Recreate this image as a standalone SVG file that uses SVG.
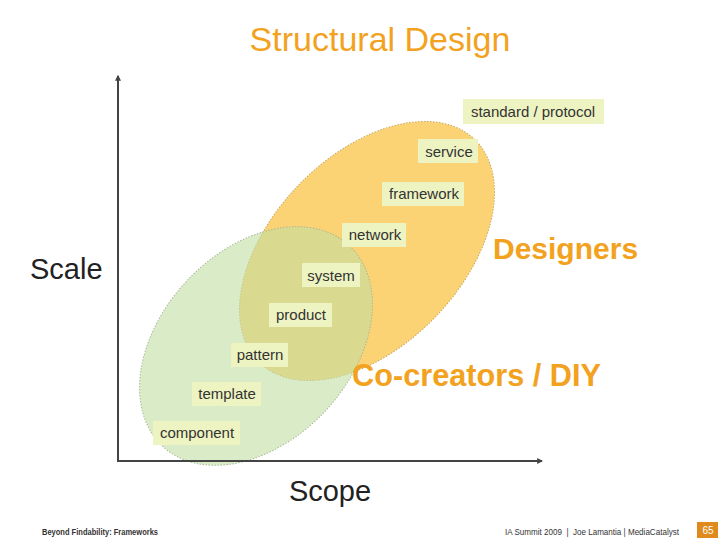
<svg xmlns="http://www.w3.org/2000/svg" width="728" height="546" viewBox="0 0 728 546">
<style>
.lbl{font-family:"Liberation Sans",Arial,sans-serif;font-size:15px;fill:#333;text-anchor:middle}
.box{fill:#eef3c2}
.big{font-family:"Liberation Sans",Arial,sans-serif;font-weight:bold;fill:#f2a21e}
.axis{stroke:#444;stroke-width:2;fill:none}
.foot{font-family:"Liberation Sans",Arial,sans-serif;font-size:9px;fill:#333}
</style>
<defs>
<marker id="arr" viewBox="0 0 10 10" refX="8" refY="5" markerWidth="6" markerHeight="6" orient="auto" markerUnits="userSpaceOnUse">
<path d="M0,0 L10,5 L0,10 Z" fill="#444"/>
</marker>
</defs>
<rect width="728" height="546" fill="#fff"/>
<text x="380" y="51" font-family="Liberation Sans,Arial,sans-serif" font-size="34" fill="#f2a21e" text-anchor="middle">Structural Design</text>

<g id="designers-ellipse">
<ellipse cx="367" cy="251" rx="155" ry="95" transform="rotate(-46 367 251)" fill="#fcd374" stroke="#c8a860" stroke-width="1" stroke-dasharray="1.5,1.5"/>
</g>
<g id="cocreators-ellipse">
<ellipse cx="256" cy="346" rx="137" ry="95" transform="rotate(-47 256 346)" fill="#c1dea3" fill-opacity="0.6" stroke="#a8b898" stroke-width="1" stroke-dasharray="1.5,1.5"/>
</g>

<g id="connectors">
<line class="axis" x1="118" y1="462" x2="118" y2="76" marker-end="url(#arr)"/>
<line class="axis" x1="117" y1="461" x2="542" y2="461" marker-end="url(#arr)"/>
</g>

<g id="n-standard"><rect class="box" x="463" y="99" width="141" height="25"/><text class="lbl" x="533" y="117">standard / protocol</text></g>
<g id="n-service"><rect class="box" x="418" y="139" width="60" height="24"/><text class="lbl" x="449" y="157">service</text></g>
<g id="n-framework"><rect class="box" x="382" y="182" width="82" height="24"/><text class="lbl" x="424" y="199">framework</text></g>
<g id="n-network"><rect class="box" x="342" y="223" width="64" height="24"/><text class="lbl" x="375" y="240">network</text></g>
<g id="n-system"><rect class="box" x="302" y="263" width="58" height="24"/><text class="lbl" x="331" y="281">system</text></g>
<g id="n-product"><rect class="box" x="269" y="303" width="63" height="24"/><text class="lbl" x="301" y="320">product</text></g>
<g id="n-pattern"><rect class="box" x="231" y="343" width="57" height="24"/><text class="lbl" x="260" y="360">pattern</text></g>
<g id="n-template"><rect class="box" x="192" y="382" width="69" height="24"/><text class="lbl" x="227" y="399">template</text></g>
<g id="n-component"><rect class="box" x="153" y="421" width="87" height="24"/><text class="lbl" x="197" y="438">component</text></g>

<text class="big" x="493" y="259" font-size="30">Designers</text>
<text class="big" x="352" y="386" font-size="30.7">Co-creators / DIY</text>

<text x="30" y="279" font-family="Liberation Sans,Arial,sans-serif" font-size="29" fill="#222">Scale</text>
<text x="330" y="501" font-family="Liberation Sans,Arial,sans-serif" font-size="29" fill="#222" text-anchor="middle">Scope</text>

<text class="foot" x="42" y="535" font-weight="bold" textLength="116" lengthAdjust="spacingAndGlyphs">Beyond Findability: Frameworks</text>
<text class="foot" x="505" y="535" fill="#444" font-size="8.5" xml:space="preserve" textLength="174" lengthAdjust="spacingAndGlyphs">IA Summit 2009  |  Joe Lamantia | MediaCatalyst</text>
<rect x="697" y="522" width="21" height="16" fill="#e0891c"/>
<text x="708" y="534" font-family="Liberation Sans,Arial,sans-serif" font-size="10" fill="#fff" text-anchor="middle">65</text>
</svg>
